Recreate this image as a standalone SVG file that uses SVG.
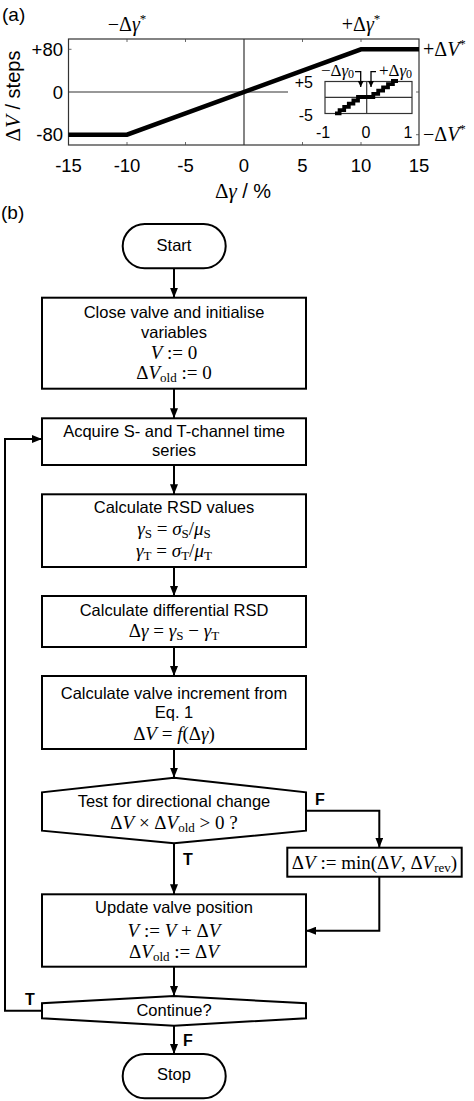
<svg xmlns="http://www.w3.org/2000/svg" width="474" height="1101" viewBox="0 0 474 1101">
<defs>
<style>
.s{font-family:"Liberation Sans",Arial,sans-serif;font-size:16.5px;fill:#000}
.ax{font-family:"Liberation Sans",Arial,sans-serif;font-size:18.5px;fill:#000}
.ax2{font-family:"Liberation Sans",Arial,sans-serif;font-size:16px;fill:#000}
.m{font-family:"Liberation Serif","Times New Roman",serif;font-size:19px;fill:#000}
.mi{font-family:"Liberation Serif","Times New Roman",serif;font-size:17px;fill:#000}
.i{font-style:italic}
.b{font-family:"Liberation Sans",Arial,sans-serif;font-size:16px;font-weight:bold;fill:#000}
.box{fill:#fff;stroke:#000;stroke-width:2}
.con{fill:none;stroke:#000;stroke-width:2}
.thin{fill:none;stroke:#333;stroke-width:1.2}
.tk{fill:none;stroke:#444;stroke-width:0.8}
</style>
<marker id="ah" viewBox="0 0 10 8" refX="10" refY="4" markerWidth="10" markerHeight="8" markerUnits="userSpaceOnUse" orient="auto">
<path d="M0,0 L10,4 L0,8 Z" fill="#000"/>
</marker>
<marker id="ahs" viewBox="0 0 6 6" refX="6" refY="3" markerWidth="6" markerHeight="6" markerUnits="userSpaceOnUse" orient="auto">
<path d="M0,0 L6,3 L0,6 Z" fill="#000"/>
</marker>
</defs>
<rect width="474" height="1101" fill="#fff"/>

<!-- Panel (a) -->
<g id="plot">
<text class="ax2" x="2" y="21" style="font-size:19px">(a)</text>
<rect class="thin" x="68.5" y="39" width="350.5" height="106"/>
<g class="tk">
<path d="M127,39v3M185.5,39v3M302.5,39v3M361,39v3M127,145v-3M185.5,145v-3M302.5,145v-3M361,145v-3"/>
<path d="M68.5,49.3h3M419,92h-3M419,49.3h-3M419,134.7h-3"/>
</g>
<line class="thin" x1="68.5" y1="92" x2="288" y2="92"/>
<line class="thin" x1="244" y1="39" x2="244" y2="145"/>
<polyline points="68.5,134.7 127,134.7 361,49.3 419,49.3" fill="none" stroke="#000" stroke-width="4.5"/>
<!-- inset -->
<rect class="thin" x="325" y="81.5" width="87" height="32" fill="#fff"/>
<line class="thin" x1="325" y1="97.3" x2="412" y2="97.3"/>
<line class="thin" x1="366.7" y1="81.5" x2="366.7" y2="113.5"/>
<polyline points="335,113.3 339.6,113.3 339.6,110.1 344.2,110.1 344.2,106.9 348.8,106.9 348.8,103.7 353.4,103.7 353.4,100.5 358,100.5 358,97 373.3,97 373.3,93.8 378.2,93.8 378.2,90.6 383.1,90.6 383.1,87.4 388,87.4 388,84.2 392.9,84.2 392.9,81 398,81" fill="none" stroke="#000" stroke-width="3.8" stroke-linejoin="miter"/>
<polyline class="con" style="stroke-width:1.3" points="355,71.7 360.7,71.7 360.7,87" marker-end="url(#ahs)"/>
<polyline class="con" style="stroke-width:1.3" points="376,71.7 371,71.7 371,87" marker-end="url(#ahs)"/>
<text class="mi" x="337.5" y="76" text-anchor="middle">−Δ<tspan class="i">γ</tspan><tspan font-size="12" dy="2">0</tspan></text>
<text class="mi" x="395.5" y="76" text-anchor="middle">+Δ<tspan class="i">γ</tspan><tspan font-size="12" dy="2">0</tspan></text>
<text class="ax2" x="313" y="88" text-anchor="end">+5</text>
<text class="ax2" x="313" y="121" text-anchor="end">-5</text>
<text class="ax2" x="323" y="138" text-anchor="middle">-1</text>
<text class="ax2" x="366" y="138" text-anchor="middle">0</text>
<text class="ax2" x="408" y="138" text-anchor="middle">1</text>
<!-- axis labels -->
<text class="ax" x="63" y="56" text-anchor="end">+80</text>
<text class="ax" x="63" y="98.5" text-anchor="end">0</text>
<text class="ax" x="63" y="141" text-anchor="end">-80</text>
<text class="ax" x="68.5" y="172" text-anchor="middle">-15</text>
<text class="ax" x="127" y="172" text-anchor="middle">-10</text>
<text class="ax" x="185.5" y="172" text-anchor="middle">-5</text>
<text class="ax" x="244" y="172" text-anchor="middle">0</text>
<text class="ax" x="302.5" y="172" text-anchor="middle">5</text>
<text class="ax" x="361" y="172" text-anchor="middle">10</text>
<text class="ax" x="419" y="172" text-anchor="middle">15</text>
<text class="ax" x="243" y="198" text-anchor="middle" style="font-size:20px"><tspan class="m" style="font-size:21px">Δ<tspan class="i">γ</tspan></tspan> / %</text>
<text class="ax" transform="translate(20,96) rotate(-90)" text-anchor="middle" style="font-size:20px"><tspan class="m" style="font-size:21px">Δ<tspan class="i">V</tspan></tspan> / steps</text>
<text class="m" x="127" y="31" text-anchor="middle" style="font-size:20px">−Δ<tspan class="i">γ</tspan><tspan font-size="13" dy="-8">*</tspan></text>
<text class="m" x="361" y="31" text-anchor="middle" style="font-size:20px">+Δ<tspan class="i">γ</tspan><tspan font-size="13" dy="-8">*</tspan></text>
<text class="m" x="423" y="56" style="font-size:20px">+Δ<tspan class="i">V</tspan><tspan font-size="13" dy="-8">*</tspan></text>
<text class="m" x="423" y="141" style="font-size:20px">−Δ<tspan class="i">V</tspan><tspan font-size="13" dy="-8">*</tspan></text>
</g>

<!-- Panel (b) -->
<text class="ax2" x="1" y="219" style="font-size:19px">(b)</text>

<g id="connectors">
<line class="con" x1="174" y1="268.3" x2="174" y2="297.7" marker-end="url(#ah)"/>
<line class="con" x1="174" y1="388.7" x2="174" y2="418.3" marker-end="url(#ah)"/>
<line class="con" x1="174" y1="465" x2="174" y2="494.3" marker-end="url(#ah)"/>
<line class="con" x1="174" y1="567" x2="174" y2="596" marker-end="url(#ah)"/>
<line class="con" x1="174" y1="647" x2="174" y2="676" marker-end="url(#ah)"/>
<line class="con" x1="174" y1="749" x2="174" y2="777.7" marker-end="url(#ah)"/>
<line class="con" x1="174" y1="843.3" x2="174" y2="894.3" marker-end="url(#ah)"/>
<polyline class="con" points="306,810.7 379.3,810.7 379.3,847.7" marker-end="url(#ah)"/>
<polyline class="con" points="379.3,876.7 379.3,930.7 306,930.7" marker-end="url(#ah)"/>
<line class="con" x1="174" y1="966.7" x2="174" y2="996" marker-end="url(#ah)"/>
<polyline class="con" points="42,1010.7 5,1010.7 5,439 42,439" marker-end="url(#ah)"/>
<line class="con" x1="174" y1="1025.7" x2="174" y2="1054" marker-end="url(#ah)"/>
<text class="b" x="320" y="805" text-anchor="middle">F</text>
<text class="b" x="188" y="865" text-anchor="middle">T</text>
<text class="b" x="30" y="1005" text-anchor="middle">T</text>
<text class="b" x="188" y="1046" text-anchor="middle">F</text>
</g>

<g id="start">
<rect class="box" x="122.7" y="224" width="103" height="44.3" rx="22" ry="22"/>
<text class="s" x="174" y="251" text-anchor="middle">Start</text>
</g>

<g id="init">
<rect class="box" x="42" y="297.7" width="264" height="91"/>
<text class="s" x="174" y="318" text-anchor="middle">Close valve and initialise</text>
<text class="s" x="174" y="337.5" text-anchor="middle">variables</text>
<text class="m" x="174" y="358.5" text-anchor="middle"><tspan class="i">V</tspan> := 0</text>
<text class="m" x="174" y="379" text-anchor="middle">Δ<tspan class="i">V</tspan><tspan font-size="13" dy="3">old</tspan><tspan dy="-3"> := 0</tspan></text>
</g>

<g id="acquire">
<rect class="box" x="42" y="418.3" width="264" height="46.7"/>
<text class="s" x="174" y="437" text-anchor="middle">Acquire S- and T-channel time</text>
<text class="s" x="174" y="456" text-anchor="middle">series</text>
</g>

<g id="rsd">
<rect class="box" x="42" y="494.3" width="264" height="72.7"/>
<text class="s" x="174" y="513" text-anchor="middle">Calculate RSD values</text>
<text class="m" x="174" y="535" text-anchor="middle"><tspan class="i">γ</tspan><tspan font-size="13" dy="3">S</tspan><tspan dy="-3"> = </tspan><tspan class="i">σ</tspan><tspan font-size="13" dy="3">S</tspan><tspan dy="-3">/</tspan><tspan class="i">μ</tspan><tspan font-size="13" dy="3">S</tspan></text>
<text class="m" x="174" y="557" text-anchor="middle"><tspan class="i">γ</tspan><tspan font-size="13" dy="3">T</tspan><tspan dy="-3"> = </tspan><tspan class="i">σ</tspan><tspan font-size="13" dy="3">T</tspan><tspan dy="-3">/</tspan><tspan class="i">μ</tspan><tspan font-size="13" dy="3">T</tspan></text>
</g>

<g id="diff">
<rect class="box" x="42" y="596" width="264" height="51"/>
<text class="s" x="174" y="616" text-anchor="middle">Calculate differential RSD</text>
<text class="m" x="174" y="637" text-anchor="middle">Δ<tspan class="i">γ</tspan> = <tspan class="i">γ</tspan><tspan font-size="13" dy="3">S</tspan><tspan dy="-3"> − </tspan><tspan class="i">γ</tspan><tspan font-size="13" dy="3">T</tspan></text>
</g>

<g id="increment">
<rect class="box" x="42" y="676" width="264" height="73"/>
<text class="s" x="174" y="698.5" text-anchor="middle">Calculate valve increment from</text>
<text class="s" x="174" y="718" text-anchor="middle">Eq. 1</text>
<text class="m" x="174" y="739.5" text-anchor="middle">Δ<tspan class="i">V</tspan> = <tspan class="i">f</tspan>(Δ<tspan class="i">γ</tspan>)</text>
</g>

<g id="test">
<polygon class="box" points="174,777.7 306,792.3 306,830.7 174,843.3 42,830.7 42,792.3"/>
<text class="s" x="174" y="806.5" text-anchor="middle">Test for directional change</text>
<text class="m" x="174" y="829" text-anchor="middle">Δ<tspan class="i">V</tspan> × Δ<tspan class="i">V</tspan><tspan font-size="13" dy="3">old</tspan><tspan dy="-3"> &gt; 0 ?</tspan></text>
</g>

<g id="minrev">
<rect class="box" x="287.3" y="847.7" width="174.4" height="29"/>
<text class="m" x="374.5" y="868.5" text-anchor="middle">Δ<tspan class="i">V</tspan> := min(Δ<tspan class="i">V</tspan>, Δ<tspan class="i">V</tspan><tspan font-size="13" dy="3">rev</tspan><tspan dy="-3">)</tspan></text>
</g>

<g id="update">
<rect class="box" x="42" y="894.3" width="264" height="72.4"/>
<text class="s" x="174" y="913" text-anchor="middle">Update valve position</text>
<text class="m" x="174" y="937" text-anchor="middle"><tspan class="i">V</tspan> := <tspan class="i">V</tspan> + Δ<tspan class="i">V</tspan></text>
<text class="m" x="174" y="958" text-anchor="middle">Δ<tspan class="i">V</tspan><tspan font-size="13" dy="3">old</tspan><tspan dy="-3"> := Δ</tspan><tspan class="i">V</tspan></text>
</g>

<g id="continue">
<polygon class="box" points="174,996 306,1003.3 306,1018.3 174,1025.7 42,1018.3 42,1003.3"/>
<text class="s" x="174" y="1016" text-anchor="middle">Continue?</text>
</g>

<g id="stop">
<rect class="box" x="122.7" y="1054" width="103" height="44.3" rx="22" ry="22"/>
<text class="s" x="174" y="1080" text-anchor="middle">Stop</text>
</g>
</svg>
